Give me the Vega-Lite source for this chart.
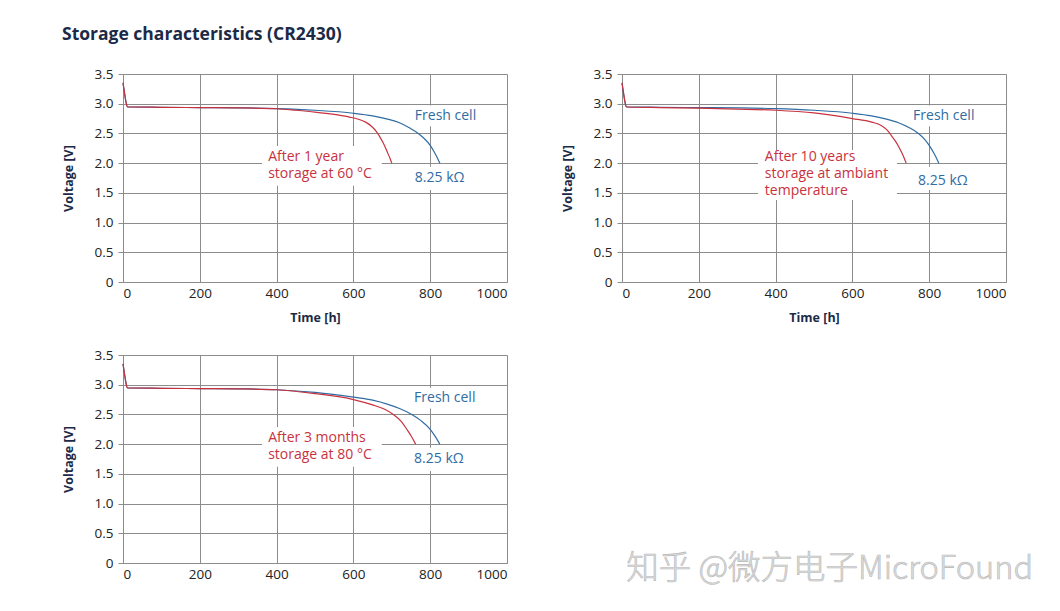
{
  "$schema": "https://vega.github.io/schema/vega-lite/v6.json",
  "padding": {"left": 62, "top": 25, "right": 5, "bottom": 5},
  "background": "white",
  "title": {"text": "Storage characteristics (CR2430)", "anchor": "start", "font": "Open Sans", "fontSize": 17.5, "fontWeight": "bold", "color": "#1b2a47", "offset": 24},
  "config": {
    "view": {"stroke": null},
    "axis": {"gridColor": "#8c8c8c", "gridOpacity": 1, "gridWidth": 1, "domainColor": "#8c8c8c", "tickColor": "#8c8c8c", "labelFont": "Open Sans", "labelFontSize": 13.5, "labelColor": "#222222", "titleFont": "Open Sans", "titleFontSize": 12.5, "titleFontWeight": "bold", "titleColor": "#1b2a47", "labelOverlap": false},
    "concat": {"spacing": 54}
  },
  "datasets": {
    "curves": [
      {"p":1,"s":"fresh","t":0,"v":3.35},{"p":1,"s":"fresh","t":4,"v":3.18},{"p":1,"s":"fresh","t":8,"v":3.02},{"p":1,"s":"fresh","t":11,"v":2.95},{"p":1,"s":"fresh","t":15,"v":2.945},{"p":1,"s":"fresh","t":100,"v":2.94},{"p":1,"s":"fresh","t":200,"v":2.935},{"p":1,"s":"fresh","t":300,"v":2.93},{"p":1,"s":"fresh","t":400,"v":2.918},{"p":1,"s":"fresh","t":500,"v":2.89},{"p":1,"s":"fresh","t":600,"v":2.84},{"p":1,"s":"fresh","t":650,"v":2.795},{"p":1,"s":"fresh","t":686,"v":2.745},{"p":1,"s":"fresh","t":720,"v":2.68},{"p":1,"s":"fresh","t":747,"v":2.59},{"p":1,"s":"fresh","t":769,"v":2.5},{"p":1,"s":"fresh","t":785,"v":2.41},{"p":1,"s":"fresh","t":800,"v":2.3},{"p":1,"s":"fresh","t":812,"v":2.17},{"p":1,"s":"fresh","t":820,"v":2.07},{"p":1,"s":"fresh","t":825,"v":2.0},
      {"p":1,"s":"stored","t":0,"v":3.35},{"p":1,"s":"stored","t":4,"v":3.18},{"p":1,"s":"stored","t":8,"v":3.02},{"p":1,"s":"stored","t":11,"v":2.95},{"p":1,"s":"stored","t":15,"v":2.945},{"p":1,"s":"stored","t":100,"v":2.94},{"p":1,"s":"stored","t":200,"v":2.935},{"p":1,"s":"stored","t":300,"v":2.93},{"p":1,"s":"stored","t":400,"v":2.915},{"p":1,"s":"stored","t":450,"v":2.89},{"p":1,"s":"stored","t":500,"v":2.86},{"p":1,"s":"stored","t":550,"v":2.82},{"p":1,"s":"stored","t":590,"v":2.775},{"p":1,"s":"stored","t":615,"v":2.735},{"p":1,"s":"stored","t":632,"v":2.69},{"p":1,"s":"stored","t":647,"v":2.62},{"p":1,"s":"stored","t":660,"v":2.53},{"p":1,"s":"stored","t":670,"v":2.43},{"p":1,"s":"stored","t":680,"v":2.31},{"p":1,"s":"stored","t":690,"v":2.16},{"p":1,"s":"stored","t":696,"v":2.07},{"p":1,"s":"stored","t":700,"v":2.0},
      {"p":2,"s":"fresh","t":0,"v":3.35},{"p":2,"s":"fresh","t":4,"v":3.18},{"p":2,"s":"fresh","t":8,"v":3.02},{"p":2,"s":"fresh","t":11,"v":2.95},{"p":2,"s":"fresh","t":15,"v":2.945},{"p":2,"s":"fresh","t":100,"v":2.94},{"p":2,"s":"fresh","t":200,"v":2.935},{"p":2,"s":"fresh","t":300,"v":2.93},{"p":2,"s":"fresh","t":400,"v":2.918},{"p":2,"s":"fresh","t":500,"v":2.89},{"p":2,"s":"fresh","t":600,"v":2.84},{"p":2,"s":"fresh","t":650,"v":2.795},{"p":2,"s":"fresh","t":686,"v":2.745},{"p":2,"s":"fresh","t":720,"v":2.68},{"p":2,"s":"fresh","t":747,"v":2.6},{"p":2,"s":"fresh","t":772,"v":2.5},{"p":2,"s":"fresh","t":787,"v":2.41},{"p":2,"s":"fresh","t":800,"v":2.3},{"p":2,"s":"fresh","t":812,"v":2.17},{"p":2,"s":"fresh","t":820,"v":2.07},{"p":2,"s":"fresh","t":825,"v":2.0},
      {"p":2,"s":"stored","t":0,"v":3.35},{"p":2,"s":"stored","t":4,"v":3.18},{"p":2,"s":"stored","t":8,"v":3.02},{"p":2,"s":"stored","t":11,"v":2.95},{"p":2,"s":"stored","t":15,"v":2.945},{"p":2,"s":"stored","t":100,"v":2.935},{"p":2,"s":"stored","t":200,"v":2.925},{"p":2,"s":"stored","t":300,"v":2.91},{"p":2,"s":"stored","t":400,"v":2.89},{"p":2,"s":"stored","t":500,"v":2.845},{"p":2,"s":"stored","t":600,"v":2.75},{"p":2,"s":"stored","t":650,"v":2.69},{"p":2,"s":"stored","t":675,"v":2.635},{"p":2,"s":"stored","t":690,"v":2.56},{"p":2,"s":"stored","t":702,"v":2.46},{"p":2,"s":"stored","t":712,"v":2.37},{"p":2,"s":"stored","t":722,"v":2.26},{"p":2,"s":"stored","t":732,"v":2.13},{"p":2,"s":"stored","t":740,"v":2.0},
      {"p":3,"s":"fresh","t":0,"v":3.35},{"p":3,"s":"fresh","t":4,"v":3.18},{"p":3,"s":"fresh","t":8,"v":3.02},{"p":3,"s":"fresh","t":11,"v":2.95},{"p":3,"s":"fresh","t":15,"v":2.945},{"p":3,"s":"fresh","t":100,"v":2.94},{"p":3,"s":"fresh","t":200,"v":2.935},{"p":3,"s":"fresh","t":300,"v":2.93},{"p":3,"s":"fresh","t":400,"v":2.915},{"p":3,"s":"fresh","t":500,"v":2.87},{"p":3,"s":"fresh","t":600,"v":2.79},{"p":3,"s":"fresh","t":650,"v":2.74},{"p":3,"s":"fresh","t":690,"v":2.67},{"p":3,"s":"fresh","t":720,"v":2.6},{"p":3,"s":"fresh","t":752,"v":2.5},{"p":3,"s":"fresh","t":775,"v":2.4},{"p":3,"s":"fresh","t":800,"v":2.25},{"p":3,"s":"fresh","t":813,"v":2.13},{"p":3,"s":"fresh","t":825,"v":2.0},
      {"p":3,"s":"stored","t":0,"v":3.35},{"p":3,"s":"stored","t":4,"v":3.18},{"p":3,"s":"stored","t":8,"v":3.02},{"p":3,"s":"stored","t":11,"v":2.95},{"p":3,"s":"stored","t":15,"v":2.945},{"p":3,"s":"stored","t":100,"v":2.94},{"p":3,"s":"stored","t":200,"v":2.935},{"p":3,"s":"stored","t":300,"v":2.93},{"p":3,"s":"stored","t":400,"v":2.915},{"p":3,"s":"stored","t":500,"v":2.85},{"p":3,"s":"stored","t":600,"v":2.75},{"p":3,"s":"stored","t":650,"v":2.66},{"p":3,"s":"stored","t":680,"v":2.59},{"p":3,"s":"stored","t":704,"v":2.5},{"p":3,"s":"stored","t":725,"v":2.38},{"p":3,"s":"stored","t":739,"v":2.25},{"p":3,"s":"stored","t":752,"v":2.12},{"p":3,"s":"stored","t":762,"v":2.0}
    ],
    "boxes": [
      {"p":1,"t1":735,"t2":950,"v1":2.97,"v2":2.62},
      {"p":1,"t1":735,"t2":910,"v1":1.94,"v2":1.55},
      {"p":1,"t1":362,"t2":674,"v1":2.29,"v2":1.62},
      {"p":2,"t1":734,"t2":955,"v1":2.97,"v2":2.62},
      {"p":2,"t1":737,"t2":922,"v1":1.94,"v2":1.55},
      {"p":2,"t1":354,"t2":716,"v1":2.22,"v2":1.38},
      {"p":3,"t1":735,"t2":950,"v1":2.95,"v2":2.6},
      {"p":3,"t1":735,"t2":910,"v1":1.94,"v2":1.55},
      {"p":3,"t1":362,"t2":674,"v1":2.29,"v2":1.62}
    ],
    "labels": [
      {"p":1,"s":"fresh","t":760,"v":2.79,"label":"Fresh cell"},
      {"p":1,"s":"fresh","t":760,"v":1.75,"label":"8.25 kΩ"},
      {"p":1,"s":"stored","t":378,"v":2.1,"label":"After 1 year\nstorage at 60 °C"},
      {"p":2,"s":"fresh","t":758,"v":2.79,"label":"Fresh cell"},
      {"p":2,"s":"fresh","t":771,"v":1.70,"label":"8.25 kΩ"},
      {"p":2,"s":"stored","t":372,"v":2.1,"label":"After 10 years\nstorage at ambiant\ntemperature"},
      {"p":3,"s":"fresh","t":758,"v":2.77,"label":"Fresh cell"},
      {"p":3,"s":"fresh","t":758,"v":1.75,"label":"8.25 kΩ"},
      {"p":3,"s":"stored","t":378,"v":2.1,"label":"After 3 months\nstorage at 80 °C"}
    ]
  },
  "vconcat": [
    {"hconcat": [
      {"width": 384, "height": 208,
       "encoding": {
         "x": {"type": "quantitative", "scale": {"domain": [0, 1000], "nice": false}, "axis": {"title": "Time [h]", "values": [0,200,400,600,800,1000], "format": "d", "grid": true, "ticks": false, "labelPadding": 4, "titlePadding": 12}},
         "y": {"type": "quantitative", "scale": {"domain": [0, 3.5], "nice": false}, "axis": {"title": "Voltage [V]", "values": [0,0.5,1,1.5,2,2.5,3,3.5], "labelExpr": "datum.value==0?'0':format(datum.value,'.1f')", "grid": true, "ticks": true, "tickSize": 5, "labelPadding": 5, "titlePadding": 19}}
       },
       "layer": [
        {"data": {"name": "boxes"}, "transform": [{"filter": "datum.p==1"}], "mark": {"type": "rect", "fill": "white"},
         "encoding": {"x": {"field": "t1"}, "x2": {"field": "t2"}, "y": {"field": "v1"}, "y2": {"field": "v2"}}},
        {"data": {"name": "curves"}, "transform": [{"filter": "datum.p==1"}], "mark": {"type": "line", "strokeWidth": 1.2, "interpolate": "monotone"},
         "encoding": {"x": {"field": "t"}, "y": {"field": "v"},
                      "color": {"field": "s", "type": "nominal", "scale": {"domain": ["fresh", "stored"], "range": ["#2f6ca3", "#c8323e"]}, "legend": null},
                      "order": {"field": "t", "type": "quantitative"}}},
        {"data": {"name": "labels"}, "transform": [{"filter": "datum.p==1"}], "mark": {"type": "text", "align": "left", "baseline": "middle", "font": "Open Sans", "fontSize": 14, "lineBreak": "\n", "lineHeight": 17},
         "encoding": {"x": {"field": "t"}, "y": {"field": "v"}, "text": {"field": "label"},
                      "color": {"field": "s", "type": "nominal", "legend": null}}}
      ]},
      {"width": 384, "height": 208,
       "encoding": {
         "x": {"type": "quantitative", "scale": {"domain": [0, 1000], "nice": false}, "axis": {"title": "Time [h]", "values": [0,200,400,600,800,1000], "format": "d", "grid": true, "ticks": false, "labelPadding": 4, "titlePadding": 12}},
         "y": {"type": "quantitative", "scale": {"domain": [0, 3.5], "nice": false}, "axis": {"title": "Voltage [V]", "values": [0,0.5,1,1.5,2,2.5,3,3.5], "labelExpr": "datum.value==0?'0':format(datum.value,'.1f')", "grid": true, "ticks": true, "tickSize": 5, "labelPadding": 5, "titlePadding": 19}}
       },
       "layer": [
        {"data": {"name": "boxes"}, "transform": [{"filter": "datum.p==2"}], "mark": {"type": "rect", "fill": "white"},
         "encoding": {"x": {"field": "t1"}, "x2": {"field": "t2"}, "y": {"field": "v1"}, "y2": {"field": "v2"}}},
        {"data": {"name": "curves"}, "transform": [{"filter": "datum.p==2"}], "mark": {"type": "line", "strokeWidth": 1.2, "interpolate": "monotone"},
         "encoding": {"x": {"field": "t"}, "y": {"field": "v"},
                      "color": {"field": "s", "type": "nominal", "scale": {"domain": ["fresh", "stored"], "range": ["#2f6ca3", "#c8323e"]}, "legend": null},
                      "order": {"field": "t", "type": "quantitative"}}},
        {"data": {"name": "labels"}, "transform": [{"filter": "datum.p==2"}], "mark": {"type": "text", "align": "left", "baseline": "middle", "font": "Open Sans", "fontSize": 14, "lineBreak": "\n", "lineHeight": 17},
         "encoding": {"x": {"field": "t"}, "y": {"field": "v"}, "text": {"field": "label"},
                      "color": {"field": "s", "type": "nominal", "legend": null}}}
      ]}
    ]},
    {"hconcat": [
      {"width": 384, "height": 208,
       "encoding": {
         "x": {"type": "quantitative", "scale": {"domain": [0, 1000], "nice": false}, "axis": {"title": null, "values": [0,200,400,600,800,1000], "format": "d", "grid": true, "ticks": false, "labelPadding": 4}},
         "y": {"type": "quantitative", "scale": {"domain": [0, 3.5], "nice": false}, "axis": {"title": "Voltage [V]", "values": [0,0.5,1,1.5,2,2.5,3,3.5], "labelExpr": "datum.value==0?'0':format(datum.value,'.1f')", "grid": true, "ticks": true, "tickSize": 5, "labelPadding": 5, "titlePadding": 19}}
       },
       "layer": [
        {"data": {"name": "boxes"}, "transform": [{"filter": "datum.p==3"}], "mark": {"type": "rect", "fill": "white"},
         "encoding": {"x": {"field": "t1"}, "x2": {"field": "t2"}, "y": {"field": "v1"}, "y2": {"field": "v2"}}},
        {"data": {"name": "curves"}, "transform": [{"filter": "datum.p==3"}], "mark": {"type": "line", "strokeWidth": 1.2, "interpolate": "monotone"},
         "encoding": {"x": {"field": "t"}, "y": {"field": "v"},
                      "color": {"field": "s", "type": "nominal", "scale": {"domain": ["fresh", "stored"], "range": ["#2f6ca3", "#c8323e"]}, "legend": null},
                      "order": {"field": "t", "type": "quantitative"}}},
        {"data": {"name": "labels"}, "transform": [{"filter": "datum.p==3"}], "mark": {"type": "text", "align": "left", "baseline": "middle", "font": "Open Sans", "fontSize": 14, "lineBreak": "\n", "lineHeight": 17},
         "encoding": {"x": {"field": "t"}, "y": {"field": "v"}, "text": {"field": "label"},
                      "color": {"field": "s", "type": "nominal", "legend": null}}}
      ]},
      {"width": 470, "height": 230,
       "data": {"values": [{"x": 0.139, "y": 0.07, "label": "知乎 @微方电子MicroFound"}]},
       "mark": {"type": "text", "align": "left", "baseline": "middle", "font": "Noto Sans CJK SC", "fontSize": 32.5, "fontWeight": 300, "fill": "#dddddd", "stroke": "#b8b8b8", "strokeWidth": 0.6},
       "encoding": {"x": {"field": "x", "type": "quantitative", "scale": {"domain": [0, 1]}, "axis": null},
                    "y": {"field": "y", "type": "quantitative", "scale": {"domain": [0, 1]}, "axis": null},
                    "text": {"field": "label"}}}
    ]}
  ],
  "spacing": 24
}
